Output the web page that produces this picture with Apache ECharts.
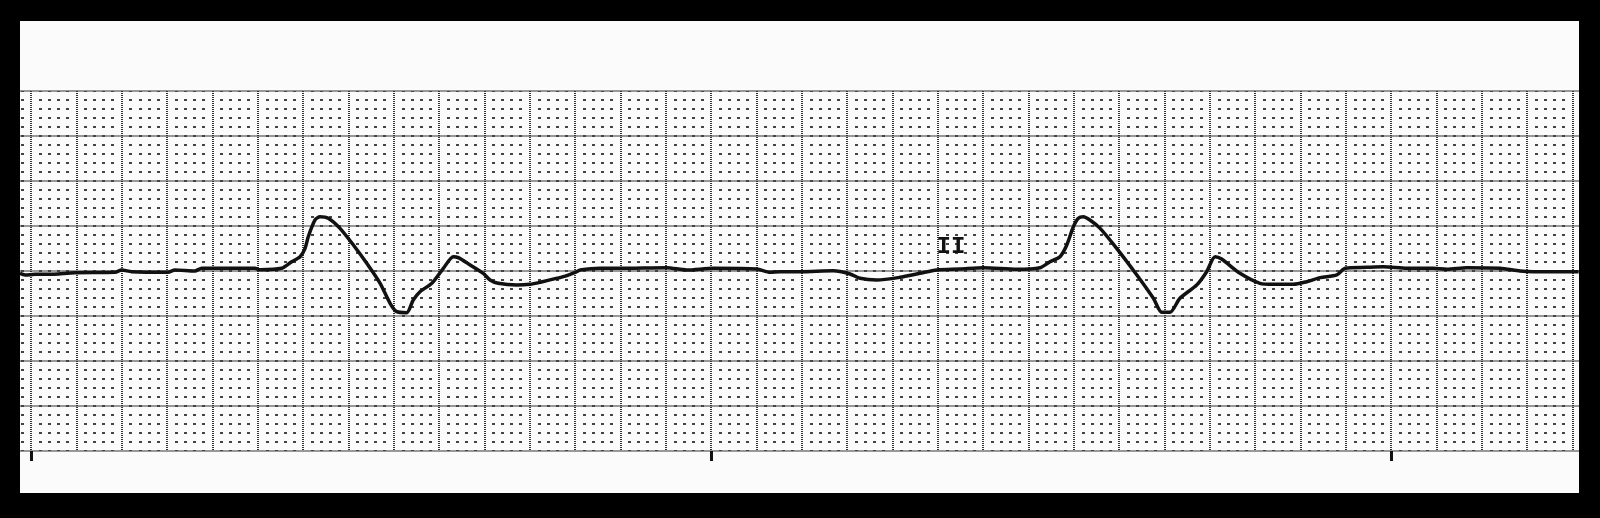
<!DOCTYPE html>
<html>
<head>
<meta charset="utf-8">
<script src="https://cdn.jsdelivr.net/npm/echarts@6/dist/echarts.min.js"></script>
<style>
html,body{margin:0;padding:0;background:#000;width:1600px;height:518px;overflow:hidden;}
#paper{position:absolute;left:20px;top:21px;width:1559px;height:472px;background:#fbfbfb;overflow:hidden;}
#chart{position:absolute;left:-70px;top:-21px;width:1700px;height:518px;}
</style>
</head>
<body>
<div id="paper"><div id="chart"></div></div>
<script>
// Lead II rhythm strip: time in seconds, amplitude in mV
const times = [-0.049,-0.026,0.018,0.075,0.194,0.371,0.400,0.444,0.604,0.635,0.723,0.753,0.988,1.010,1.106,1.150,1.187,1.209,1.223,1.253,1.275,1.311,1.363,1.422,1.481,1.540,1.584,1.613,1.657,1.686,1.716,1.768,1.819,1.863,1.885,1.937,1.995,2.025,2.061,2.143,2.201,2.245,2.348,2.407,2.422,2.510,2.598,2.804,2.892,3.010,3.201,3.260,3.304,3.392,3.539,3.613,3.657,3.731,3.833,3.921,3.995,4.098,4.201,4.348,4.451,4.495,4.539,4.569,4.598,4.620,4.642,4.671,4.716,4.789,4.878,4.951,4.988,5.024,5.068,5.142,5.186,5.223,5.252,5.333,5.421,5.480,5.568,5.627,5.687,5.760,5.797,5.892,5.966,6.069,6.186,6.245,6.334,6.480,6.568,6.627,6.827];
const millivolts = [-0.026,-0.044,-0.037,-0.037,-0.019,-0.014,0.011,-0.008,-0.014,0.011,0.000,0.030,0.030,0.014,0.030,0.103,0.159,0.252,0.381,0.567,0.603,0.586,0.474,0.289,0.086,-0.137,-0.359,-0.452,-0.463,-0.322,-0.230,-0.137,0.030,0.159,0.148,0.067,-0.026,-0.100,-0.137,-0.156,-0.148,-0.126,-0.063,-0.008,0.011,0.030,0.030,0.037,0.011,0.030,0.022,-0.014,-0.008,-0.008,0.003,-0.033,-0.081,-0.100,-0.070,-0.026,0.011,0.022,0.037,0.019,0.037,0.103,0.159,0.289,0.492,0.586,0.603,0.567,0.474,0.252,-0.044,-0.303,-0.459,-0.459,-0.303,-0.156,-0.008,0.159,0.133,-0.026,-0.137,-0.148,-0.148,-0.119,-0.074,-0.044,0.030,0.041,0.048,0.030,0.030,0.019,0.037,0.030,0.000,-0.008,-0.008];
const markerTicks = [0, 3.0, 6.0];
const leadLabel = 'II';

const trace = times.map((t, i) => [t, millivolts[i]]);

const chart = echarts.init(document.getElementById('chart'), null, {renderer: 'canvas'});
chart.setOption({
  animation: false,
  backgroundColor: 'transparent',
  grid: {left: 35.66, right: 32.1, top: 91, bottom: 67, containLabel: false},
  xAxis: [{
    type: 'value', min: -0.2, max: 7.0, interval: 0.2,
    axisLine: {show: false, onZero: false},
    axisLabel: {show: false},
    axisTick: {show: false},
    splitLine: {show: true, lineStyle: {color: '#333', width: 2, type: [1, 1]}},
    minorTick: {show: false, splitNumber: 5},
    minorSplitLine: {show: true, lineStyle: {color: '#444', width: 3, type: [2, 7], dashOffset: 1}}
  }, {
    type: 'value', min: -0.2, max: 7.0, position: 'bottom',
    axisLine: {show: false, onZero: false},
    axisLabel: {show: false},
    axisTick: {show: true, customValues: markerTicks, length: 10, inside: false,
      lineStyle: {color: '#111', width: 3}},
    splitLine: {show: false}
  }],
  yAxis: {
    type: 'value', min: -2, max: 2, interval: 0.5,
    axisLine: {show: false}, axisLabel: {show: false}, axisTick: {show: false},
    splitLine: {show: true, lineStyle: {color: '#777', width: 1.5}}
  },
  graphic: [{
    type: 'text', x: 1001, y: 247, z: 100,
    style: {text: leadLabel, font: 'bold 24px "Liberation Mono"', fill: '#111',
      textAlign: 'center', textVerticalAlign: 'middle'}
  }],
  series: [{
    type: 'line', xAxisIndex: 0, data: trace, showSymbol: false, symbol: 'none', smooth: 0.25,
    clip: false, z: 10,
    lineStyle: {color: '#111', width: 3.5}
  }]
});
</script>
</body>
</html>
